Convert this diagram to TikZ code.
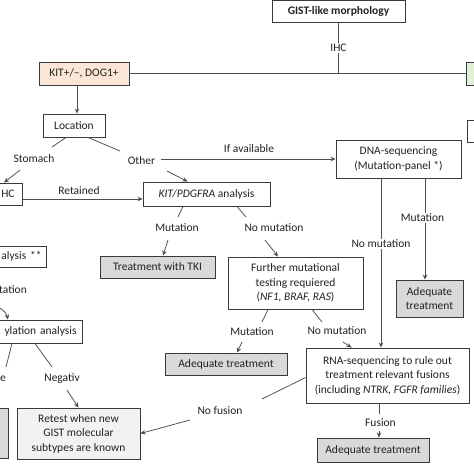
\documentclass[tikz,border=0pt]{standalone}
\usepackage{fontspec}
\setmainfont{Carlito}
\usetikzlibrary{arrows.meta,calc}
\definecolor{lnc}{HTML}{4D4D4D}
\definecolor{bd}{HTML}{3A3A3A}
\definecolor{txt}{HTML}{222222}
\definecolor{greyfill}{HTML}{D9D9D9}
\definecolor{lightfill}{HTML}{F2F2F2}
\definecolor{peach}{HTML}{FBE5D6}
\definecolor{mint}{HTML}{E2F0D9}
\begin{document}
\begin{tikzpicture}[x=1pt,y=-1pt,
  every node/.style={font=\fontsize{11.5}{14.5}\selectfont, text=txt},
  box/.style={draw=bd, line width=0.9pt, fill=white, inner sep=2pt, align=center},
  gbox/.style={box, fill=greyfill},
  lab/.style={inner sep=1pt},
  conn/.style={draw=lnc, line width=0.75pt},
  arr/.style={conn, -{Stealth[length=5pt,width=4.5pt]}},
]
\useasboundingbox (0,0) rectangle (474,474);
\fill[white] (0,0) rectangle (474,474);
\clip (0,0) rectangle (474,474);

% nodes
\node[box, minimum width=133pt, minimum height=22pt] (gist) at (338.5,11) {\textbf{GIST-like morphology}};
\node[lab] (ihclab) at (338.5,48) {IHC};
\node[box, fill=peach, minimum width=90pt, minimum height=23pt] (kit) at (84,73.5) {KIT+/\textendash, DOG1+};
\node[box, fill=mint, anchor=west, minimum width=90pt, minimum height=23pt] (green) at (466,73.5) {};
\node[box, anchor=west, minimum width=90pt, minimum height=22pt] (rbox) at (467,131) {};
\node[box, minimum width=62pt, minimum height=23pt] (loc) at (74,125.5) {Location};
\node[lab] (stomach) at (34,159) {Stomach};
\node[lab] (other) at (141.5,161) {Other};
\node[lab] (ifav) at (249,149) {If available};
\node[box, anchor=east, text width=47pt, align=right, inner xsep=8pt, minimum height=22pt] (ihc) at (23,194) {HC};
\node[lab] (retained) at (79,191) {Retained};
\node[box, minimum width=127pt, minimum height=24pt] (kp) at (206.5,194) {\textit{KIT/PDGFRA} analysis};
\node[box, minimum width=125pt, minimum height=38pt] (dna) at (398.5,159) {DNA-sequencing\\(Mutation-panel *)};
\node[lab] (mut1) at (177,228) {Mutation};
\node[lab] (nomut1) at (274,228) {No mutation};
\node[lab] (mut2) at (422.5,218) {Mutation};
\node[lab] (nomut2) at (381,244) {No mutation};
\node[box, anchor=east, text width=60pt, align=right, inner xsep=5pt, minimum height=21pt] (sdh) at (47,256.5) {alysis **};
\node[gbox, minimum width=115pt, minimum height=22pt] (tki) at (157.5,267) {Treatment with TKI};
\node[box, minimum width=135pt, minimum height=52pt] (further) at (295.5,283) {Further mutational\\testing requiered\\(\textit{NF1, BRAF, RAS})};
\node[gbox, minimum width=67pt, minimum height=37pt] (adeq1) at (429.5,298.5) {Adequate\\treatment};
\node[lab, anchor=east] (tation) at (28,290) {tation};
\node[box, anchor=east, text width=80pt, align=right, inner xsep=6pt, minimum height=23pt] (meth) at (83,331.5) {ylation analysis};
\node[lab] (mut3) at (252,332) {Mutation};
\node[lab] (nomut3) at (337,331) {No mutation};
\node[gbox, minimum width=122pt, minimum height=22pt] (adeq2) at (226,364) {Adequate treatment};
\node[box, minimum width=163pt, minimum height=55pt] (rna) at (387.5,375.5) {RNA-sequencing to rule out\\treatment relevant fusions\\(including \textit{NTRK, FGFR families})};
\node[lab, anchor=east] (pos) at (7,379) {e};
\node[lab] (neg) at (62,379) {Negativ};
\node[lab] (nofus) at (220,411) {No fusion};
\node[lab] (fusion) at (380.5,423) {Fusion};
\node[box, fill=lightfill, minimum width=123pt, minimum height=51pt] (retest) at (78.5,433.5) {Retest when new\\GIST molecular\\subtypes are known};
\node[gbox, anchor=east, minimum width=70pt, minimum height=50pt] (lg) at (9,433) {};
\node[gbox, minimum width=112pt, minimum height=24pt] (adeq3) at (373,450) {Adequate treatment};

% connectors
\draw[conn] (gist) -- (ihclab);
\draw[conn] (ihclab) -- (gist |- kit);
\draw[conn] (kit) -- (green);
\draw[arr] ([xshift=-7pt]kit.south) -- ([xshift=-7pt]kit.south |- loc.north);
\draw[conn] ([xshift=-8pt]loc.south) -- ($(stomach)+(18,-12)$);
\draw[arr] ($(stomach)+(-14,11)$) -- ([xshift=-19pt]ihc.north east);
\draw[conn] ([xshift=14pt]loc.south) -- ($(other)+(-21.5,-10)$);
\draw[arr] ($(other)+(25.5,10)$) -- ([xshift=45pt]kp.north west);
\draw[arr] ([xshift=5pt]other.east |- dna.west) -- (dna.west);
\draw[arr] ([yshift=-5pt]ihc.east) -- ([yshift=-5pt]ihc.east -| kp.west);
\draw[conn] ([xshift=-23.5pt]kp.south) -- ($(mut1)+(1,-11)$);
\draw[arr] ($(mut1)+(-9,12)$) -- ([xshift=5.5pt]tki.north);
\draw[conn] ([xshift=30.5pt]kp.south) -- ($(nomut1)+(-28,-11)$);
\draw[arr] ($(nomut1)+(-9,12)$) -- ([xshift=-17.5pt]further.north);
\draw[conn, line width=0.95pt] ([xshift=-17.5pt]dna.south) -- (nomut2);
\draw[arr, line width=0.95pt] (nomut2) -- (nomut2 |- rna.north);
\draw[conn] ([xshift=26.5pt]dna.south) -- ([xshift=26.5pt]dna.south |- mut2.north);
\draw[arr] ([xshift=26.5pt]dna.south |- mut2.south) -- ([xshift=26.5pt]dna.south |- adeq1.north);
\draw[conn] ([xshift=-27.5pt]further.south) -- ($(mut3)+(10,-10)$);
\draw[arr] ($(mut3)+(-10,10)$) -- ([xshift=11pt]adeq2.north);
\draw[conn] ([xshift=16.5pt]further.south) -- ($(nomut3)+(-15,-9)$);
\draw[arr] ($(nomut3)+(6,11)$) -- ([xshift=46pt]rna.north west);
\draw[conn] ([yshift=-2pt]rna.west) -- ($(nofus)+(42,-12)$);
\draw[arr] ($(nofus)+(-30,9)$) -- (retest.east);
\draw[conn] ([xshift=-8.5pt]rna.south) -- ($(fusion)+(-1.5,-9)$);
\draw[arr] ($(fusion)+(-1.5,8)$) -- ([xshift=6pt]adeq3.north);
\draw[conn] ([xshift=-71pt]meth.south east) -- ($(pos.east)+(-1,-12)$);
\draw[conn] ([xshift=-48pt]meth.south east) -- ($(neg)+(-10,-12)$);
\draw[arr] ($(neg)+(5,11)$) -- (retest.north);
\draw[arr] ($(tation.west)+(0,17)$) to[bend left=25] ([xshift=-75pt]meth.north east);
\end{tikzpicture}
\end{document}
